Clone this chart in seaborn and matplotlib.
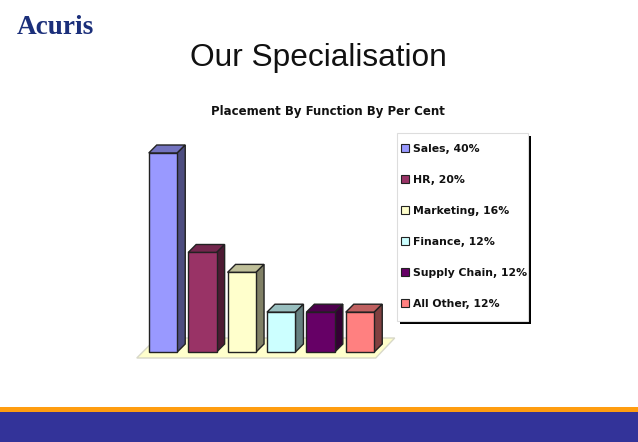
import matplotlib
matplotlib.use("Agg")
import matplotlib.pyplot as plt
from matplotlib.patches import Patch, Polygon, Rectangle
import numpy as np
import pandas as pd
import seaborn as sns

categories = ["Sales", "HR", "Marketing", "Finance", "Supply Chain", "All Other"]
bar_heights = [40, 20, 16, 8, 8, 8]
label_percents = [40, 20, 16, 12, 12, 12]
colors = ["#9999FF", "#993366", "#FFFFCC", "#CCFFFF", "#660066", "#FF8080"]

W, H = 638, 442
sns.set_theme(style="white")
plt.rcParams["font.family"] = ["DejaVu Sans"]
fig = plt.figure(figsize=(W / 100, H / 100), dpi=100, facecolor="white")


def fx(px):
    return px / W


def fy(py):
    return 1 - py / H


# page furniture
fig.add_artist(Rectangle((0, fy(412)), 1, 5 / H, transform=fig.transFigure, fc="#FF9D10", ec="none"))
fig.add_artist(Rectangle((0, 0), 1, fy(412), transform=fig.transFigure, fc="#333399", ec="none"))
fig.text(fx(17), fy(28), "Acuris", family="Liberation Serif", weight="bold", fontsize=19.6,
         color="#1B2F7A", va="center", ha="left")
fig.text(fx(318.5), fy(58), "Our Specialisation", family="Liberation Sans", fontsize=22.8,
         color="#111111", va="center", ha="center")
fig.text(fx(327.5), fy(112), "Placement By Function By Per Cent", weight="bold", fontsize=8.45,
         color="#111111", va="center", ha="center")

# chart
ax = fig.add_axes([fx(143.3), fy(352), 236.4 / W, 199 / H])
df = pd.DataFrame({"category": categories, "value": bar_heights})
sns.barplot(data=df, x="category", y="value", hue="category", palette=colors, width=0.723,
            saturation=1, legend=False, ax=ax, edgecolor="#222222", linewidth=1.0, zorder=3)
ax.set_xlim(-0.5, 5.5)
ax.set_ylim(0, 40)
ax.axis("off")

px_x = 6 / 236.4   # data units per pixel
px_y = 40 / 199
dx, dy = 8 * px_x, 8 * px_y


def shade(color, f):
    r = np.array(matplotlib.colors.to_rgb(color)) * f
    return tuple(r)


patches = list(ax.patches)
# floor, extending from the bars
x0 = patches[0].get_x() - 12 * px_x
x1 = patches[-1].get_x() + patches[-1].get_width() + 1.5 * px_x
y0 = -6 * px_y
y1 = 14 * px_y
ax.add_patch(Polygon([(x0, y0), (x1, y0), (x1 + 19 * px_x, y1), (x0 + 20 * px_x, y1)], closed=True,
                     fc="#FFFFCC", ec="#D8D8C8", lw=1, clip_on=False, zorder=1))

for p, c in zip(patches, colors):
    x, w, h = p.get_x(), p.get_width(), p.get_height()
    ax.add_patch(Polygon([(x, h), (x + dx, h + dy), (x + w + dx, h + dy), (x + w, h)], closed=True,
                         fc=shade(c, 0.75), ec="#222222", lw=1.0, clip_on=False, zorder=2))
    ax.add_patch(Polygon([(x + w, 0), (x + w + dx, dy), (x + w + dx, h + dy), (x + w, h)], closed=True,
                         fc=shade(c, 0.5), ec="#222222", lw=1.0, clip_on=False, zorder=2))
    p.set_clip_on(False)

# legend frame with hard shadow
fig.add_artist(Rectangle((fx(400), fy(324)), 131 / W, 188 / H, transform=fig.transFigure, fc="black", ec="none"))
fig.add_artist(Rectangle((fx(397), fy(321)), 131 / W, 188 / H, transform=fig.transFigure, fc="white",
                         ec="#DDDDDD", lw=0.8))

# legend
handles = [Patch(fc=c, ec="#222222", lw=0.8) for c in colors]
labels = [f"{n}, {v}%" for n, v in zip(categories, label_percents)]
leg = fig.legend(handles, labels, loc="upper left", bbox_to_anchor=(fx(401), fy(144)),
                 borderaxespad=0, prop={"weight": "bold", "size": 7.85},
                 frameon=False, handlelength=0.73, handleheight=0.73, handletextpad=0.37,
                 labelspacing=1.92, borderpad=0, labelcolor="#111111")
fig.savefig("out.png", dpi=100)
